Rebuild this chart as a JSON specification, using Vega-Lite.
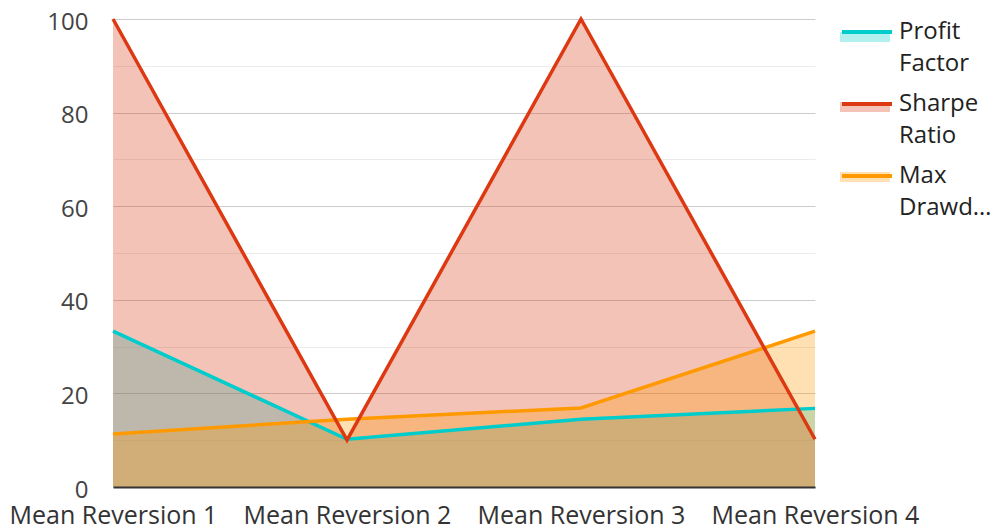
{
  "$schema": "https://vega.github.io/schema/vega-lite/v6.json",
  "width": 702,
  "height": 468,
  "autosize": {"type": "none"},
  "padding": {"left": 113, "top": 19, "right": 182, "bottom": 39},
  "config": {"font": "Open Sans", "view": {"stroke": null}},
  "data": {
    "values": [
      {"strategy": "Mean Reversion 1", "metric": "Profit Factor", "value": 33.3},
      {"strategy": "Mean Reversion 2", "metric": "Profit Factor", "value": 10.2},
      {"strategy": "Mean Reversion 3", "metric": "Profit Factor", "value": 14.5},
      {"strategy": "Mean Reversion 4", "metric": "Profit Factor", "value": 16.8},
      {"strategy": "Mean Reversion 1", "metric": "Sharpe Ratio", "value": 100},
      {"strategy": "Mean Reversion 2", "metric": "Sharpe Ratio", "value": 10},
      {"strategy": "Mean Reversion 3", "metric": "Sharpe Ratio", "value": 100},
      {"strategy": "Mean Reversion 4", "metric": "Sharpe Ratio", "value": 10.2},
      {"strategy": "Mean Reversion 1", "metric": "Max Drawdown", "value": 11.3},
      {"strategy": "Mean Reversion 2", "metric": "Max Drawdown", "value": 14.5},
      {"strategy": "Mean Reversion 3", "metric": "Max Drawdown", "value": 16.9},
      {"strategy": "Mean Reversion 4", "metric": "Max Drawdown", "value": 33.3}
    ]
  },
  "encoding": {
    "x": {
      "field": "strategy",
      "type": "ordinal",
      "scale": {"type": "point", "padding": 0},
      "axis": {
        "title": null,
        "labelAngle": 0,
        "labelLimit": 400,
        "domainColor": "#333333",
        "domainWidth": 2,
        "ticks": false,
        "tickSize": 0,
        "labelPadding": 16,
        "labelFontSize": 25,
        "labelColor": "#333333",
        "grid": false,
        "zindex": 1
      }
    },
    "y": {
      "field": "value",
      "type": "quantitative",
      "stack": null,
      "scale": {"domain": [0, 100], "nice": false},
      "axis": {
        "title": null,
        "values": [0, 10, 20, 30, 40, 50, 60, 70, 80, 90, 100],
        "labelExpr": "datum.value % 20 === 0 ? datum.label : ''",
        "gridColor": {"condition": {"test": "datum.value % 20 === 0", "value": "#cccccc"}, "value": "#ebebeb"},
        "domain": false,
        "ticks": false,
        "tickSize": 0,
        "labelPadding": 25,
        "labelFontSize": 24,
        "labelColor": "#444444",
        "labelOffset": 3
      }
    }
  },
  "layer": [
    {
      "mark": {"type": "area", "fillOpacity": 0.3},
      "encoding": {
        "fill": {
          "field": "metric",
          "type": "nominal",
          "sort": ["Profit Factor", "Sharpe Ratio", "Max Drawdown"],
          "scale": {"domain": ["Profit Factor", "Sharpe Ratio", "Max Drawdown"], "range": ["#00cccc", "#dc3912", "#ff9900"]},
          "legend": {
            "title": null,
            "orient": "none",
            "legendX": 727,
            "legendY": -14,
            "padding": 0,
            "symbolType": "M-1,0.08H1V0.48H-1Z",
            "symbolSize": 2500,
            "symbolOpacity": 0.3,
            "symbolStrokeWidth": 0,
            "labelExpr": "datum.label == 'Max Drawdown' ? ['Max', 'Drawd…'] : split(datum.label, ' ')",
            "labelFontSize": 24,
            "labelLimit": 200,
            "labelOffset": 5,
            "rowPadding": 1,
            "labelOpacity": 0,
            "encode": {"labels": {"update": {"lineHeight": {"value": 32}}}}
          }
        }
      }
    },
    {
      "transform": [{"filter": "datum.metric == 'Profit Factor'"}],
      "mark": {"type": "line", "strokeWidth": 3.5},
      "encoding": {
        "stroke": {
          "field": "metric",
          "type": "nominal",
          "sort": ["Profit Factor", "Sharpe Ratio", "Max Drawdown"],
          "scale": {"range": ["#00cccc", "#dc3912", "#ff9900"]},
          "legend": {
            "title": null,
            "orient": "none",
            "legendX": 727,
            "legendY": -14,
            "padding": 0,
            "symbolType": "M-1,0H1",
            "symbolSize": 2500,
            "symbolStrokeWidth": 4,
            "labelExpr": "datum.label == 'Max Drawdown' ? ['Max', 'Drawd…'] : split(datum.label, ' ')",
            "labelFontSize": 24,
            "labelLimit": 200,
            "labelOffset": 5,
            "rowPadding": 1,
            "labelColor": "#222222",
            "encode": {"labels": {"update": {"lineHeight": {"value": 32}}}}
          }
        }
      }
    },
    {
      "transform": [{"filter": "datum.metric == 'Max Drawdown'"}],
      "mark": {"type": "line", "strokeWidth": 3.5},
      "encoding": {"stroke": {"field": "metric", "type": "nominal", "sort": ["Profit Factor", "Sharpe Ratio", "Max Drawdown"]}}
    },
    {
      "transform": [{"filter": "datum.metric == 'Sharpe Ratio'"}],
      "mark": {"type": "line", "strokeWidth": 3.5},
      "encoding": {"stroke": {"field": "metric", "type": "nominal", "sort": ["Profit Factor", "Sharpe Ratio", "Max Drawdown"]}}
    }
  ]
}
